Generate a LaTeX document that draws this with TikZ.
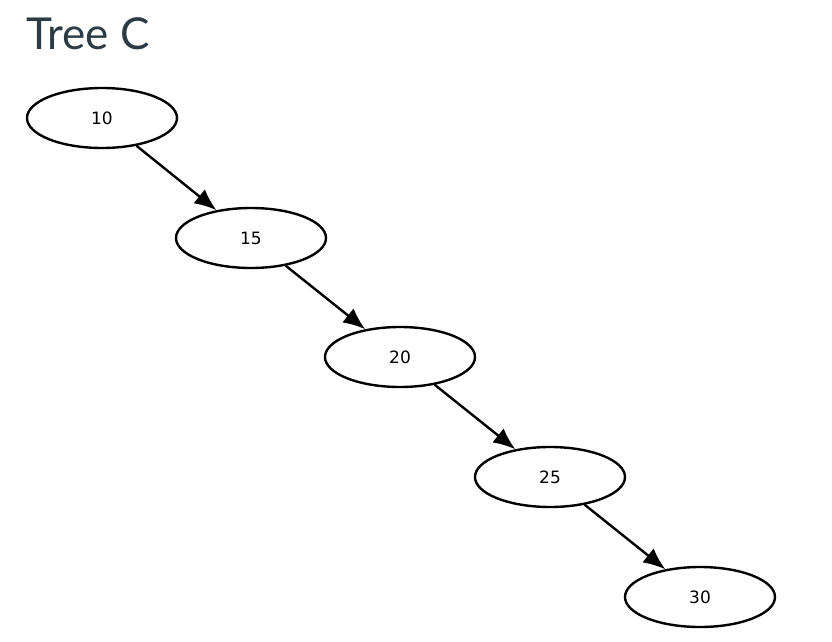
\documentclass[tikz,border=0pt]{standalone}
\usepackage{fontspec}
\setmainfont{DejaVu Sans}
\newfontfamily\titlefont{Lato}
\usetikzlibrary{arrows.meta,shapes.geometric}
\definecolor{titlegray}{HTML}{2D3B45}

\begin{document}
\begin{tikzpicture}[x=1pt,y=-1pt,>={Latex[length=22pt,width=18pt]}]
  \useasboundingbox (0,0) rectangle (832,642);
  \tikzset{treenode/.style={ellipse,draw,line width=2.4pt,minimum width=150pt,minimum height=60pt,inner sep=0pt,font=\fontsize{17}{19}\selectfont}}

\node[anchor=base west,text=titlegray,font=\titlefont\fontsize{44}{48}\selectfont,inner sep=0pt] (title) at (26,50) {Tree C};

\node[treenode] (n10) at (102,118) {10};
\node[treenode] (n15) at (251,238) {15};
\node[treenode] (n20) at (400,357) {20};
\node[treenode] (n25) at (550,477) {25};
\node[treenode] (n30) at (700,597) {30};

\draw[->,line width=2.4pt] (n10) -- (n15);
\draw[->,line width=2.4pt] (n15) -- (n20);
\draw[->,line width=2.4pt] (n20) -- (n25);
\draw[->,line width=2.4pt] (n25) -- (n30);
\end{tikzpicture}
\end{document}
